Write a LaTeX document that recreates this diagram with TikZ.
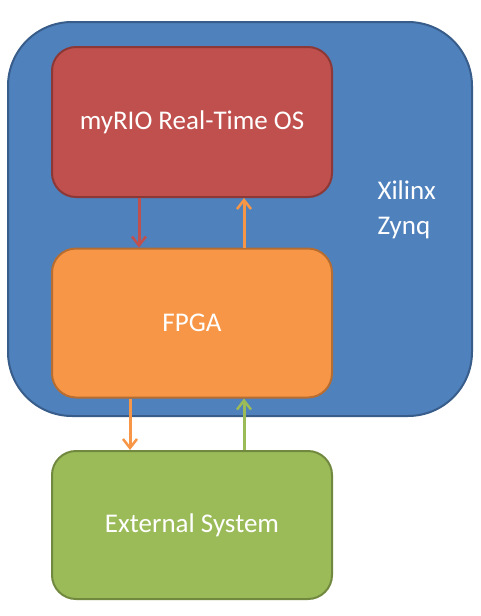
\documentclass[tikz,border=0pt]{standalone}
\usepackage{fontspec}
\setmainfont{Carlito}
\usetikzlibrary{arrows.meta}
\usetikzlibrary{positioning}

\definecolor{zynqblue}{HTML}{4F81BD}
\definecolor{zynqblueline}{HTML}{385D8A}
\definecolor{osred}{HTML}{C0504D}
\definecolor{osredline}{HTML}{8C3836}
\definecolor{fpgaorange}{HTML}{F79646}
\definecolor{fpgaorangeline}{HTML}{B66D31}
\definecolor{extgreen}{HTML}{9BBB59}
\definecolor{extgreenline}{HTML}{71893F}

\tikzset{
    block/.style={rectangle, rounded corners=24pt, line width=2pt,
        minimum width=280pt, text=white,
        font=\fontsize{27}{35}\selectfont},
    link/.style={->, line width=3pt,
        >={Straight Barb[length=9pt, width=14pt, line width=2.5pt]}}
}

\begin{document}
\begin{tikzpicture}[x=1pt, y=-1pt]
    \useasboundingbox (0, 0) rectangle (481, 616);
    % the Zynq chip around the two inner blocks
    \draw (240, 219) node[rectangle, rounded corners=64pt, line width=2pt,
        draw=zynqblueline, fill=zynqblue, minimum width=464pt,
        minimum height=394pt] (zynq) {};
    \draw (374, 210) node[anchor=west, align=left, text=white,
        font=\fontsize{27}{35}\selectfont] (zynqlabel) {Xilinx\\Zynq};

    \draw (192, 122) node[block, draw=osredline, fill=osred,
        minimum height=150pt] (os) {myRIO Real-Time OS};
    \draw (192, 323) node[block, draw=fpgaorangeline, fill=fpgaorange,
        minimum height=149pt] (fpga) {FPGA};
    \draw (192, 525) node[block, draw=extgreenline, fill=extgreen,
        minimum height=148pt] (ext) {External System};

    \draw[link, osred] (os.south -| 139, 0) -- (fpga.north -| 139, 0);
    \draw[link, fpgaorange] (fpga.north -| 244, 0) -- (os.south -| 244, 0);
    \draw[link, fpgaorange] (fpga.south -| 130, 0) -- (ext.north -| 130, 0);
    \draw[link, extgreen] (ext.north -| 244, 0) -- (fpga.south -| 244, 0);
\end{tikzpicture}
\end{document}
